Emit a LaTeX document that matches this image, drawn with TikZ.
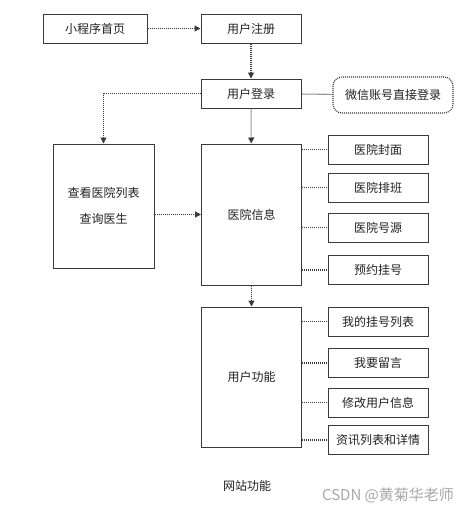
\documentclass[tikz,border=0pt]{standalone}
\usepackage{fontspec}
\setmainfont{Noto Sans CJK SC}
\usetikzlibrary{arrows.meta,positioning,calc}
\definecolor{BoxLineColour}{HTML}{3A3A3A}
\definecolor{TextColour}{HTML}{222222}
\definecolor{WatermarkColour}{HTML}{A8A8A8}
\tikzstyle{ModuleNode}=[draw=BoxLineColour,line width=1pt,rectangle,inner sep=0pt,text=TextColour,font=\fontsize{12}{14}\selectfont]
\tikzstyle{SmallModule}=[ModuleNode,minimum width=100pt,minimum height=29pt]
\tikzstyle{BigModule}=[ModuleNode,minimum width=100pt]
\tikzstyle{DottedLink}=[draw=BoxLineColour,line width=1.1pt,dash pattern=on 1pt off 1pt]
\tikzstyle{DottedArrow}=[DottedLink,-{Triangle[length=6pt,width=6pt]}]
\tikzstyle{CloudNode}=[DottedLink,rounded corners=9pt,minimum width=120pt,minimum height=36pt,inner sep=0pt,text=TextColour,font=\fontsize{12}{14}\selectfont]

\begin{document}
\begin{tikzpicture}[x=1pt,y=-1pt]
  \useasboundingbox[fill=white] (0,0) rectangle (474,512);

  % top row
  \node[SmallModule,minimum width=104pt] (MiniHome) at (95,28.5) {小程序首页};
  \node[SmallModule] (UserRegister) at (251,28.5) {用户注册};
  \node[SmallModule] (UserLogin) at (251,93.5) {用户登录};
  \node[CloudNode] (WechatLogin) at (393,95) {微信账号直接登录};

  % main modules
  \node[BigModule,minimum width=101pt,minimum height=124pt,align=center] (HospitalList) at (103.5,206) {查看医院列表\\[12pt]查询医生};
  \node[BigModule,minimum height=141pt] (HospitalInfo) at (251.5,214.5) {医院信息};
  \node[BigModule,minimum height=140pt] (UserFunction) at (251.5,377) {用户功能};

  % hospital info items
  \node[SmallModule] (HospitalCover) at (378,149.5) {医院封面};
  \node[SmallModule] (HospitalSchedule) at (378,187.5) {医院排班};
  \node[SmallModule] (HospitalSource) at (378,227.5) {医院号源};
  \node[SmallModule] (Booking) at (378,270) {预约挂号};

  % user function items
  \node[SmallModule] (MyBookings) at (378,321.5) {我的挂号列表};
  \node[SmallModule] (LeaveMessage) at (378,363) {我要留言};
  \node[SmallModule] (EditUserInfo) at (378,402.5) {修改用户信息};
  \node[SmallModule] (NewsList) at (378,440) {资讯列表和详情};

  \node[text=TextColour,font=\fontsize{12}{14}\selectfont] (Caption) at (247,486) {网站功能};
  \node[text=WatermarkColour,font=\fontsize{15}{17}\selectfont] (Watermark) at (388,495) {CSDN @黄菊华老师};

  \draw[DottedArrow] (MiniHome) -- (UserRegister);
  \draw[DottedArrow] (UserRegister) -- (UserLogin);
  \draw[DottedLink] (UserLogin) -- (WechatLogin);
  \draw[DottedArrow] (UserLogin.west) -| (HospitalList.north);
  \draw[DottedArrow] (UserLogin) -- (HospitalInfo);
  \draw[DottedArrow] (HospitalList.east |- HospitalInfo.west) -- (HospitalInfo.west);
  \draw[DottedArrow] (HospitalInfo) -- (UserFunction);

  \foreach \item in {HospitalCover,HospitalSchedule,HospitalSource,Booking}
    \draw[DottedLink] (\item.west -| HospitalInfo.east) -- (\item.west);
  \foreach \item in {MyBookings,LeaveMessage,EditUserInfo,NewsList}
    \draw[DottedLink] (\item.west -| UserFunction.east) -- (\item.west);

\end{tikzpicture}
\end{document}
